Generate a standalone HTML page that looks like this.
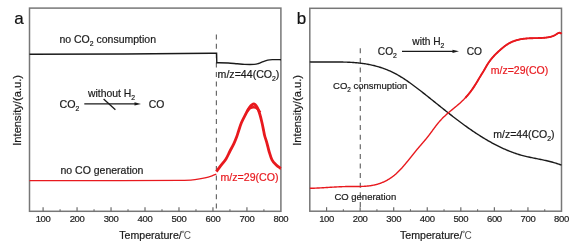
<!DOCTYPE html>
<html><head><meta charset="utf-8"><style>
html,body{margin:0;padding:0;background:#fff;width:581px;height:242px;overflow:hidden}
svg{display:block;filter:blur(0.25px)}
svg text{stroke:currentColor;stroke-width:0.2px}
svg text{font-family:"Liberation Sans", sans-serif}
</style></head><body>
<svg width="581" height="242" viewBox="0 0 581 242" font-family='"Liberation Sans", sans-serif'><text x="14.3" y="23.7" font-size="17" fill="#111" color="#111">a</text>
<text x="296.8" y="23.8" font-size="17" fill="#111" color="#111">b</text>
<rect x="29.50" y="8.10" width="251.40" height="203.20" fill="none" stroke="#777" stroke-width="1.5"/>
<line x1="43.09" y1="211.30" x2="43.09" y2="207.30" stroke="#6a6a6a" stroke-width="1.2"/>
<text x="43.09" y="222.2" font-size="9.5" letter-spacing="-0.35" text-anchor="middle" fill="#222" color="#222">100</text>
<line x1="77.06" y1="211.30" x2="77.06" y2="207.30" stroke="#6a6a6a" stroke-width="1.2"/>
<text x="77.06" y="222.2" font-size="9.5" letter-spacing="-0.35" text-anchor="middle" fill="#222" color="#222">200</text>
<line x1="111.04" y1="211.30" x2="111.04" y2="207.30" stroke="#6a6a6a" stroke-width="1.2"/>
<text x="111.04" y="222.2" font-size="9.5" letter-spacing="-0.35" text-anchor="middle" fill="#222" color="#222">300</text>
<line x1="145.01" y1="211.30" x2="145.01" y2="207.30" stroke="#6a6a6a" stroke-width="1.2"/>
<text x="145.01" y="222.2" font-size="9.5" letter-spacing="-0.35" text-anchor="middle" fill="#222" color="#222">400</text>
<line x1="178.98" y1="211.30" x2="178.98" y2="207.30" stroke="#6a6a6a" stroke-width="1.2"/>
<text x="178.98" y="222.2" font-size="9.5" letter-spacing="-0.35" text-anchor="middle" fill="#222" color="#222">500</text>
<line x1="212.95" y1="211.30" x2="212.95" y2="207.30" stroke="#6a6a6a" stroke-width="1.2"/>
<text x="212.95" y="222.2" font-size="9.5" letter-spacing="-0.35" text-anchor="middle" fill="#222" color="#222">600</text>
<line x1="246.93" y1="211.30" x2="246.93" y2="207.30" stroke="#6a6a6a" stroke-width="1.2"/>
<text x="246.93" y="222.2" font-size="9.5" letter-spacing="-0.35" text-anchor="middle" fill="#222" color="#222">700</text>
<text x="280.90" y="222.2" font-size="9.5" letter-spacing="-0.35" text-anchor="middle" fill="#222" color="#222">800</text>
<line x1="60.08" y1="211.30" x2="60.08" y2="209.30" stroke="#6a6a6a" stroke-width="1.1"/>
<line x1="94.05" y1="211.30" x2="94.05" y2="209.30" stroke="#6a6a6a" stroke-width="1.1"/>
<line x1="128.02" y1="211.30" x2="128.02" y2="209.30" stroke="#6a6a6a" stroke-width="1.1"/>
<line x1="161.99" y1="211.30" x2="161.99" y2="209.30" stroke="#6a6a6a" stroke-width="1.1"/>
<line x1="195.97" y1="211.30" x2="195.97" y2="209.30" stroke="#6a6a6a" stroke-width="1.1"/>
<line x1="229.94" y1="211.30" x2="229.94" y2="209.30" stroke="#6a6a6a" stroke-width="1.1"/>
<line x1="263.91" y1="211.30" x2="263.91" y2="209.30" stroke="#6a6a6a" stroke-width="1.1"/>
<rect x="309.80" y="8.30" width="251.70" height="202.90" fill="none" stroke="#777" stroke-width="1.5"/>
<line x1="326.58" y1="211.20" x2="326.58" y2="207.20" stroke="#6a6a6a" stroke-width="1.2"/>
<text x="326.58" y="222.2" font-size="9.5" letter-spacing="-0.35" text-anchor="middle" fill="#222" color="#222">100</text>
<line x1="360.14" y1="211.20" x2="360.14" y2="207.20" stroke="#6a6a6a" stroke-width="1.2"/>
<text x="360.14" y="222.2" font-size="9.5" letter-spacing="-0.35" text-anchor="middle" fill="#222" color="#222">200</text>
<line x1="393.70" y1="211.20" x2="393.70" y2="207.20" stroke="#6a6a6a" stroke-width="1.2"/>
<text x="393.70" y="222.2" font-size="9.5" letter-spacing="-0.35" text-anchor="middle" fill="#222" color="#222">300</text>
<line x1="427.26" y1="211.20" x2="427.26" y2="207.20" stroke="#6a6a6a" stroke-width="1.2"/>
<text x="427.26" y="222.2" font-size="9.5" letter-spacing="-0.35" text-anchor="middle" fill="#222" color="#222">400</text>
<line x1="460.82" y1="211.20" x2="460.82" y2="207.20" stroke="#6a6a6a" stroke-width="1.2"/>
<text x="460.82" y="222.2" font-size="9.5" letter-spacing="-0.35" text-anchor="middle" fill="#222" color="#222">500</text>
<line x1="494.38" y1="211.20" x2="494.38" y2="207.20" stroke="#6a6a6a" stroke-width="1.2"/>
<text x="494.38" y="222.2" font-size="9.5" letter-spacing="-0.35" text-anchor="middle" fill="#222" color="#222">600</text>
<line x1="527.94" y1="211.20" x2="527.94" y2="207.20" stroke="#6a6a6a" stroke-width="1.2"/>
<text x="527.94" y="222.2" font-size="9.5" letter-spacing="-0.35" text-anchor="middle" fill="#222" color="#222">700</text>
<text x="561.50" y="222.2" font-size="9.5" letter-spacing="-0.35" text-anchor="middle" fill="#222" color="#222">800</text>
<line x1="343.36" y1="211.20" x2="343.36" y2="209.20" stroke="#6a6a6a" stroke-width="1.1"/>
<line x1="376.92" y1="211.20" x2="376.92" y2="209.20" stroke="#6a6a6a" stroke-width="1.1"/>
<line x1="410.48" y1="211.20" x2="410.48" y2="209.20" stroke="#6a6a6a" stroke-width="1.1"/>
<line x1="444.04" y1="211.20" x2="444.04" y2="209.20" stroke="#6a6a6a" stroke-width="1.1"/>
<line x1="477.60" y1="211.20" x2="477.60" y2="209.20" stroke="#6a6a6a" stroke-width="1.1"/>
<line x1="511.16" y1="211.20" x2="511.16" y2="209.20" stroke="#6a6a6a" stroke-width="1.1"/>
<line x1="544.72" y1="211.20" x2="544.72" y2="209.20" stroke="#6a6a6a" stroke-width="1.1"/>
<line x1="216.4" y1="34.4" x2="216.4" y2="211" stroke="#6a6a6a" stroke-width="1.2" stroke-dasharray="5,4.4"/>
<line x1="360.3" y1="48.3" x2="360.3" y2="211" stroke="#6a6a6a" stroke-width="1.2" stroke-dasharray="5,4.6"/>
<path d="M29.5,54.2 L125,54.0 L211,53.2 L216.6,53.1 L216.8,62.8 C217.18,62.78 217.20,62.67 219.10,62.70 C221.00,62.73 225.17,62.82 228.20,63.00 C231.23,63.18 234.58,63.57 237.30,63.80 C240.02,64.03 241.70,64.30 244.50,64.40 C247.30,64.50 251.75,64.55 254.10,64.40 C256.45,64.25 257.08,63.97 258.60,63.50 C260.12,63.03 261.68,62.17 263.20,61.60 C264.72,61.03 266.18,60.43 267.70,60.10 C269.22,59.77 270.08,59.67 272.30,59.60 C274.52,59.53 279.55,59.68 281.00,59.70" fill="none" stroke="#1a1a1a" stroke-width="1.4"/>
<path d="M29.50,180.60 C44.58,180.60 94.92,180.63 120.00,180.60 C145.08,180.57 167.50,180.57 180.00,180.40 C192.50,180.23 190.83,180.02 195.00,179.60 C199.17,179.18 202.17,178.52 205.00,177.90 C207.83,177.28 210.12,176.53 212.00,175.90 C213.88,175.27 215.58,174.40 216.30,174.10" fill="none" stroke="#e8191e" stroke-width="1.3"/>
<path d="M216.40,171.60 C217.03,170.73 218.60,168.52 220.20,166.40 C221.80,164.28 224.40,161.38 226.00,158.90 C227.60,156.42 228.47,154.10 229.80,151.50 C231.13,148.90 232.83,145.80 234.00,143.30 C235.17,140.80 236.03,138.55 236.80,136.50 C237.57,134.45 237.83,133.28 238.60,131.00 C239.37,128.72 240.25,125.55 241.40,122.80 C242.55,120.05 244.12,117.10 245.50,114.50 C246.88,111.90 248.32,108.95 249.70,107.20 C251.08,105.45 252.57,104.00 253.80,104.00 C255.03,104.00 256.08,105.45 257.10,107.20 C258.12,108.95 259.08,111.90 259.90,114.50 C260.72,117.10 261.37,120.05 262.00,122.80 C262.63,125.55 263.27,128.88 263.70,131.00 C264.13,133.12 264.05,133.45 264.60,135.50 C265.15,137.55 266.25,140.63 267.00,143.30 C267.75,145.97 268.27,148.75 269.10,151.50 C269.93,154.25 270.85,157.60 272.00,159.80 C273.15,162.00 274.63,163.33 276.00,164.70 C277.37,166.07 279.37,167.40 280.20,168.00 C281.03,168.60 280.87,168.25 281.00,168.30" fill="none" stroke="#e8191e" stroke-width="2.8"/>
<path d="M246.50,112.00 C247.08,111.37 248.78,109.00 250.00,108.20 C251.22,107.40 252.60,107.17 253.80,107.20 C255.00,107.23 256.13,107.52 257.20,108.40 C258.27,109.28 259.70,111.82 260.20,112.50" fill="none" stroke="#e8191e" stroke-width="2.6"/>
<path d="M309.80,61.92 L310.80,61.95 L311.80,61.97 L312.80,61.99 L313.80,62.01 L314.80,62.03 L315.80,62.04 L316.80,62.04 L317.80,62.05 L318.80,62.05 L319.80,62.05 L320.80,62.05 L321.80,62.05 L322.80,62.05 L323.80,62.04 L324.80,62.04 L325.80,62.03 L326.80,62.03 L327.80,62.02 L328.80,62.01 L329.80,62.01 L330.80,62.00 L331.80,61.99 L332.80,61.99 L333.80,61.99 L334.80,61.99 L335.80,61.99 L336.80,61.99 L337.80,61.99 L338.80,62.00 L339.80,62.01 L340.80,62.02 L341.80,62.04 L342.80,62.05 L343.80,62.08 L344.80,62.10 L345.80,62.13 L346.80,62.17 L347.80,62.21 L348.80,62.25 L349.80,62.30 L350.80,62.35 L351.80,62.41 L352.80,62.47 L353.80,62.54 L354.80,62.62 L355.80,62.70 L356.80,62.79 L357.80,62.89 L358.80,62.99 L359.80,63.10 L360.80,63.22 L361.80,63.35 L362.80,63.48 L363.80,63.62 L364.80,63.77 L365.80,63.93 L366.80,64.10 L367.80,64.28 L368.80,64.47 L369.80,64.66 L370.80,64.87 L371.80,65.09 L372.80,65.31 L373.80,65.55 L374.80,65.80 L375.80,66.06 L376.80,66.33 L377.80,66.61 L378.80,66.90 L379.80,67.21 L380.80,67.52 L381.80,67.85 L382.80,68.20 L383.80,68.55 L384.80,68.92 L385.80,69.30 L386.80,69.70 L387.80,70.11 L388.80,70.53 L389.80,70.97 L390.80,71.42 L391.80,71.89 L392.80,72.37 L393.80,72.87 L394.80,73.38 L395.80,73.91 L396.80,74.45 L397.80,75.01 L398.80,75.59 L399.80,76.18 L400.80,76.78 L401.80,77.40 L402.80,78.03 L403.80,78.68 L404.80,79.33 L405.80,80.00 L406.80,80.68 L407.80,81.37 L408.80,82.07 L409.80,82.77 L410.80,83.49 L411.80,84.22 L412.80,84.95 L413.80,85.69 L414.80,86.44 L415.80,87.19 L416.80,87.95 L417.80,88.71 L418.80,89.48 L419.80,90.25 L420.80,91.03 L421.80,91.81 L422.80,92.59 L423.80,93.37 L424.80,94.16 L425.80,94.95 L426.80,95.74 L427.80,96.54 L428.80,97.33 L429.80,98.13 L430.80,98.93 L431.80,99.73 L432.80,100.53 L433.80,101.33 L434.80,102.13 L435.80,102.94 L436.80,103.74 L437.80,104.54 L438.80,105.34 L439.80,106.15 L440.80,106.95 L441.80,107.75 L442.80,108.55 L443.80,109.34 L444.80,110.14 L445.80,110.94 L446.80,111.73 L447.80,112.52 L448.80,113.31 L449.80,114.09 L450.80,114.88 L451.80,115.66 L452.80,116.44 L453.80,117.21 L454.80,117.98 L455.80,118.75 L456.80,119.51 L457.80,120.27 L458.80,121.03 L459.80,121.78 L460.80,122.52 L461.80,123.26 L462.80,124.00 L463.80,124.73 L464.80,125.46 L465.80,126.18 L466.80,126.89 L467.80,127.60 L468.80,128.31 L469.80,129.01 L470.80,129.70 L471.80,130.39 L472.80,131.07 L473.80,131.75 L474.80,132.41 L475.80,133.08 L476.80,133.74 L477.80,134.39 L478.80,135.03 L479.80,135.67 L480.80,136.30 L481.80,136.93 L482.80,137.54 L483.80,138.16 L484.80,138.76 L485.80,139.36 L486.80,139.95 L487.80,140.53 L488.80,141.10 L489.80,141.67 L490.80,142.23 L491.80,142.78 L492.80,143.33 L493.80,143.87 L494.80,144.40 L495.80,144.92 L496.80,145.43 L497.80,145.93 L498.80,146.43 L499.80,146.92 L500.80,147.40 L501.80,147.87 L502.80,148.33 L503.80,148.78 L504.80,149.23 L505.80,149.66 L506.80,150.09 L507.80,150.51 L508.80,150.92 L509.80,151.31 L510.80,151.70 L511.80,152.08 L512.80,152.45 L513.80,152.81 L514.80,153.16 L515.80,153.51 L516.80,153.84 L517.80,154.16 L518.80,154.47 L519.80,154.77 L520.80,155.06 L521.80,155.34 L522.80,155.60 L523.80,155.86 L524.80,156.11 L525.80,156.36 L526.80,156.59 L527.80,156.82 L528.80,157.04 L529.80,157.26 L530.80,157.47 L531.80,157.68 L532.80,157.88 L533.80,158.09 L534.80,158.28 L535.80,158.48 L536.80,158.68 L537.80,158.88 L538.80,159.07 L539.80,159.27 L540.80,159.47 L541.80,159.68 L542.80,159.88 L543.80,160.09 L544.80,160.31 L545.80,160.53 L546.80,160.75 L547.80,160.98 L548.80,161.22 L549.80,161.47 L550.80,161.73 L551.80,161.99 L552.80,162.26 L553.80,162.55 L554.80,162.85 L555.80,163.15 L556.80,163.47 L557.80,163.81 L558.80,164.16 L559.80,164.52 L560.80,164.89 L561.50,165.17" fill="none" stroke="#1a1a1a" stroke-width="1.4" stroke-linejoin="round"/>
<path d="M309.90,188.32 L310.40,188.31 L310.90,188.30 L311.40,188.28 L311.90,188.27 L312.40,188.25 L312.90,188.24 L313.40,188.22 L313.90,188.20 L314.40,188.18 L314.90,188.16 L315.40,188.14 L315.90,188.12 L316.40,188.09 L316.90,188.07 L317.40,188.05 L317.90,188.02 L318.40,188.00 L318.90,187.97 L319.40,187.94 L319.90,187.92 L320.40,187.89 L320.90,187.86 L321.40,187.84 L321.90,187.81 L322.40,187.78 L322.90,187.75 L323.40,187.72 L323.90,187.69 L324.40,187.66 L324.90,187.63 L325.40,187.60 L325.90,187.57 L326.40,187.54 L326.90,187.51 L327.40,187.48 L327.90,187.45 L328.40,187.42 L328.90,187.38 L329.40,187.35 L329.90,187.32 L330.40,187.29 L330.90,187.26 L331.40,187.23 L331.90,187.20 L332.40,187.17 L332.90,187.14 L333.40,187.11 L333.90,187.08 L334.40,187.05 L334.90,187.03 L335.40,187.00 L335.90,186.97 L336.40,186.94 L336.90,186.92 L337.40,186.89 L337.90,186.87 L338.40,186.84 L338.90,186.82 L339.40,186.79 L339.90,186.77 L340.40,186.75 L340.90,186.72 L341.40,186.70 L341.90,186.68 L342.40,186.66 L342.90,186.65 L343.40,186.63 L343.90,186.61 L344.40,186.59 L344.90,186.58 L345.40,186.57 L345.90,186.55 L346.40,186.54 L346.90,186.53 L347.40,186.52 L347.90,186.51 L348.40,186.50 L348.90,186.50 L349.40,186.49 L349.90,186.49 L350.40,186.48 L350.90,186.48 L351.40,186.48 L351.90,186.48 L352.40,186.48 L352.90,186.48 L353.40,186.49 L353.90,186.49 L354.40,186.49 L354.90,186.49 L355.40,186.49 L355.90,186.49 L356.40,186.49 L356.90,186.49 L357.40,186.49 L357.90,186.49 L358.40,186.48 L358.90,186.48 L359.40,186.47 L359.90,186.46 L360.40,186.46 L360.90,186.44 L361.40,186.43 L361.90,186.41 L362.40,186.40 L362.90,186.38 L363.40,186.35 L363.90,186.33 L364.40,186.30 L364.90,186.27 L365.40,186.23 L365.90,186.19 L366.40,186.15 L366.90,186.11 L367.40,186.06 L367.90,186.01 L368.40,185.96 L368.90,185.90 L369.40,185.84 L369.90,185.77 L370.40,185.70 L370.90,185.63 L371.40,185.55 L371.90,185.46 L372.40,185.37 L372.90,185.28 L373.40,185.18 L373.90,185.08 L374.40,184.97 L374.90,184.86 L375.40,184.74 L375.90,184.62 L376.40,184.49 L376.90,184.35 L377.40,184.21 L377.90,184.07 L378.40,183.92 L378.90,183.76 L379.40,183.59 L379.90,183.42 L380.40,183.24 L380.90,183.06 L381.40,182.87 L381.90,182.67 L382.40,182.47 L382.90,182.26 L383.40,182.04 L383.90,181.81 L384.40,181.58 L384.90,181.34 L385.40,181.09 L385.90,180.83 L386.40,180.57 L386.90,180.30 L387.40,180.02 L387.90,179.73 L388.40,179.43 L388.90,179.13 L389.40,178.81 L389.90,178.49 L390.40,178.16 L390.90,177.82 L391.40,177.47 L391.90,177.12 L392.40,176.75 L392.90,176.37 L393.40,175.99 L393.90,175.59 L394.40,175.19 L394.90,174.77 L395.40,174.35 L395.90,173.91 L396.40,173.47 L396.90,173.01 L397.40,172.55 L397.90,172.07 L398.40,171.58 L398.90,171.09 L399.40,170.58 L399.90,170.06 L400.40,169.54 L400.90,169.00 L401.40,168.46 L401.90,167.91 L402.40,167.35 L402.90,166.79 L403.40,166.21 L403.90,165.64 L404.40,165.05 L404.90,164.46 L405.40,163.87 L405.90,163.27 L406.40,162.66 L406.90,162.05 L407.40,161.44 L407.90,160.83 L408.40,160.21 L408.90,159.59 L409.40,158.97 L409.90,158.34 L410.40,157.72 L410.90,157.09 L411.40,156.47 L411.90,155.84 L412.40,155.22 L412.90,154.59 L413.40,153.97 L413.90,153.35 L414.40,152.73 L414.90,152.11 L415.40,151.50 L415.90,150.88 L416.40,150.28 L416.90,149.67 L417.40,149.07 L417.90,148.48 L418.40,147.89 L418.90,147.30 L419.40,146.71 L419.90,146.13 L420.40,145.55 L420.90,144.97 L421.40,144.39 L421.90,143.81 L422.40,143.22 L422.90,142.64 L423.40,142.06 L423.90,141.47 L424.40,140.88 L424.90,140.28 L425.40,139.68 L425.90,139.08 L426.40,138.47 L426.90,137.86 L427.40,137.23 L427.90,136.61 L428.40,135.97 L428.90,135.32 L429.40,134.67 L429.90,134.01 L430.40,133.34 L430.90,132.66 L431.40,131.98 L431.90,131.30 L432.40,130.62 L432.90,129.93 L433.40,129.25 L433.90,128.57 L434.40,127.89 L434.90,127.22 L435.40,126.55 L435.90,125.89 L436.40,125.24 L436.90,124.60 L437.40,123.98 L437.90,123.36 L438.40,122.76 L438.90,122.17 L439.40,121.59 L439.90,121.02 L440.40,120.47 L440.90,119.92 L441.40,119.39 L441.90,118.86 L442.40,118.35 L442.90,117.84 L443.40,117.35 L443.90,116.86 L444.40,116.38 L444.90,115.90 L445.40,115.44 L445.90,114.98 L446.40,114.52 L446.90,114.08 L447.40,113.64 L447.90,113.20 L448.40,112.77 L448.90,112.34 L449.40,111.92 L449.90,111.50 L450.40,111.08 L450.90,110.67 L451.40,110.26 L451.90,109.85 L452.40,109.44 L452.90,109.03 L453.40,108.63 L453.90,108.22 L454.40,107.81 L454.90,107.40 L455.40,106.99 L455.90,106.58 L456.40,106.17 L456.90,105.75 L457.40,105.33 L457.90,104.91 L458.40,104.48 L458.90,104.05 L459.40,103.61 L459.90,103.17 L460.40,102.72 L460.90,102.26 L461.40,101.80 L461.90,101.33 L462.40,100.85 L462.90,100.37 L463.40,99.88 L463.90,99.37 L464.40,98.86 L464.90,98.34 L465.40,97.81 L465.90,97.26 L466.40,96.71 L466.90,96.14 L467.40,95.56 L467.90,94.97 L468.40,94.37 L468.90,93.75 L469.40,93.13 L469.90,92.49 L470.40,91.83 L470.90,91.17 L471.40,90.49 L471.90,89.80 L472.40,89.09 L472.90,88.38 L473.40,87.64 L473.90,86.90 L474.40,86.14 L474.90,85.36 L475.40,84.58 L475.90,83.77 L476.40,82.96 L476.90,82.13 L477.40,81.29 L477.90,80.44 L478.40,79.59 L478.90,78.74 L479.40,77.89 L479.90,77.06 L480.40,76.24 L480.90,75.43 L481.40,74.62 L481.90,73.82 L482.40,73.01 L482.90,72.20 L483.40,71.37 L483.90,70.53 L484.40,69.67 L484.90,68.80 L485.40,67.93 L485.90,67.05 L486.40,66.19 L486.90,65.35 L487.40,64.53 L487.90,63.74 L488.40,62.98 L488.90,62.24 L489.40,61.53 L489.90,60.83 L490.40,60.16 L490.90,59.52 L491.40,58.89 L491.90,58.28 L492.40,57.68 L492.90,57.11 L493.40,56.54 L493.90,56.00 L494.40,55.46 L494.90,54.94 L495.40,54.43 L495.90,53.93 L496.40,53.44 L496.90,52.96 L497.40,52.48 L497.90,52.01 L498.40,51.55 L498.90,51.08 L499.40,50.63 L499.90,50.18 L500.40,49.73 L500.90,49.29 L501.40,48.86 L501.90,48.43 L502.40,48.02 L502.90,47.61 L503.40,47.21 L503.90,46.81 L504.40,46.43 L504.90,46.05 L505.40,45.69 L505.90,45.34 L506.40,44.99 L506.90,44.66 L507.40,44.34 L507.90,44.03 L508.40,43.73 L508.90,43.44 L509.40,43.17 L509.90,42.90 L510.40,42.64 L510.90,42.39 L511.40,42.15 L511.90,41.92 L512.40,41.71 L512.90,41.49 L513.40,41.29 L513.90,41.10 L514.40,40.91 L514.90,40.74 L515.40,40.57 L515.90,40.41 L516.40,40.26 L516.90,40.11 L517.40,39.97 L517.90,39.84 L518.40,39.71 L518.90,39.60 L519.40,39.49 L519.90,39.38 L520.40,39.28 L520.90,39.19 L521.40,39.10 L521.90,39.02 L522.40,38.94 L522.90,38.87 L523.40,38.80 L523.90,38.74 L524.40,38.68 L524.90,38.63 L525.40,38.58 L525.90,38.53 L526.40,38.49 L526.90,38.45 L527.40,38.42 L527.90,38.38 L528.40,38.35 L528.90,38.33 L529.40,38.30 L529.90,38.28 L530.40,38.26 L530.90,38.24 L531.40,38.23 L531.90,38.21 L532.40,38.20 L532.90,38.19 L533.40,38.17 L533.90,38.16 L534.40,38.15 L534.90,38.14 L535.40,38.13 L535.90,38.12 L536.40,38.11 L536.90,38.10 L537.40,38.09 L537.90,38.08 L538.40,38.07 L538.90,38.05 L539.40,38.04 L539.90,38.02 L540.40,38.00 L540.90,37.98 L541.40,37.95 L541.90,37.93 L542.40,37.90 L542.90,37.87 L543.40,37.83 L543.90,37.79 L544.40,37.75 L544.90,37.71 L545.40,37.66 L545.90,37.60 L546.40,37.55 L546.90,37.48 L547.40,37.42 L547.90,37.34 L548.40,37.26 L548.90,37.17 L549.40,37.07 L549.90,36.96 L550.40,36.84 L550.90,36.71 L551.40,36.56 L551.90,36.40 L552.40,36.23 L552.90,36.04 L553.40,35.83 L553.90,35.60 L554.40,35.36 L554.90,35.10 L555.40,34.82 L555.90,34.51 L556.40,34.19 L556.90,33.85 L557.40,33.54 L557.90,33.25 L558.40,33.01 L558.90,32.84 L559.40,32.76 L559.90,32.79 L560.40,32.95 L560.90,33.26 L561.40,33.73 L561.50,33.84" fill="none" stroke="#e8191e" stroke-width="1.4" stroke-linejoin="round"/>
<path d="M465.40,97.81 L465.90,97.26 L466.40,96.71 L466.90,96.14 L467.40,95.56 L467.90,94.97 L468.40,94.37 L468.90,93.75 L469.40,93.13 L469.90,92.49 L470.40,91.83 L470.90,91.17 L471.40,90.49 L471.90,89.80 L472.40,89.09 L472.90,88.38 L473.40,87.64 L473.90,86.90 L474.40,86.14 L474.90,85.36 L475.40,84.58 L475.90,83.77 L476.40,82.96 L476.90,82.13 L477.40,81.29 L477.90,80.44 L478.40,79.59 L478.90,78.74 L479.40,77.89 L479.90,77.06 L480.40,76.24 L480.90,75.43 L481.40,74.62 L481.90,73.82 L482.40,73.01 L482.90,72.20 L483.40,71.37 L483.90,70.53 L484.40,69.67 L484.90,68.80 L485.40,67.93 L485.90,67.05 L486.40,66.19 L486.90,65.35 L487.40,64.53 L487.90,63.74 L488.40,62.98 L488.90,62.24 L489.40,61.53 L489.90,60.83 L490.40,60.16 L490.90,59.52 L491.40,58.89 L491.90,58.28 L492.40,57.68 L492.90,57.11 L493.40,56.54 L493.90,56.00 L494.40,55.46 L494.90,54.94 L495.40,54.43 L495.90,53.93 L496.40,53.44 L496.90,52.96 L497.40,52.48 L497.90,52.01 L498.40,51.55 L498.90,51.08 L499.40,50.63 L499.90,50.18 L500.40,49.73 L500.90,49.29 L501.40,48.86 L501.90,48.43 L502.40,48.02 L502.90,47.61 L503.40,47.21 L503.90,46.81 L504.40,46.43 L504.90,46.05 L505.40,45.69 L505.90,45.34 L506.40,44.99 L506.90,44.66 L507.40,44.34 L507.90,44.03 L508.40,43.73 L508.90,43.44 L509.40,43.17 L509.90,42.90 L510.40,42.64 L510.90,42.39 L511.40,42.15 L511.90,41.92 L512.40,41.71 L512.90,41.49 L513.40,41.29 L513.90,41.10 L514.40,40.91 L514.90,40.74 L515.40,40.57 L515.90,40.41 L516.40,40.26 L516.90,40.11 L517.40,39.97 L517.90,39.84 L518.40,39.71 L518.90,39.60 L519.40,39.49 L519.90,39.38 L520.40,39.28 L520.90,39.19 L521.40,39.10 L521.90,39.02 L522.40,38.94 L522.90,38.87 L523.40,38.80 L523.90,38.74 L524.40,38.68 L524.90,38.63 L525.40,38.58 L525.90,38.53 L526.40,38.49 L526.90,38.45 L527.40,38.42 L527.90,38.38 L528.40,38.35 L528.90,38.33 L529.40,38.30 L529.90,38.28 L530.40,38.26 L530.90,38.24 L531.40,38.23 L531.90,38.21 L532.40,38.20 L532.90,38.19 L533.40,38.17 L533.90,38.16 L534.40,38.15 L534.90,38.14 L535.40,38.13 L535.90,38.12 L536.40,38.11 L536.90,38.10 L537.40,38.09 L537.90,38.08 L538.40,38.07 L538.90,38.05 L539.40,38.04 L539.90,38.02 L540.40,38.00 L540.90,37.98 L541.40,37.95 L541.90,37.93 L542.40,37.90 L542.90,37.87 L543.40,37.83 L543.90,37.79 L544.40,37.75 L544.90,37.71 L545.40,37.66 L545.90,37.60 L546.40,37.55 L546.90,37.48 L547.40,37.42 L547.90,37.34 L548.40,37.26 L548.90,37.17 L549.40,37.07 L549.90,36.96 L550.40,36.84 L550.90,36.71 L551.40,36.56 L551.90,36.40 L552.40,36.23 L552.90,36.04 L553.40,35.83 L553.90,35.60 L554.40,35.36 L554.90,35.10 L555.40,34.82 L555.90,34.51 L556.40,34.19 L556.90,33.85 L557.40,33.54 L557.90,33.25 L558.40,33.01 L558.90,32.84 L559.40,32.76 L559.90,32.79 L560.40,32.95 L560.90,33.26 L561.40,33.73 L561.50,33.84" fill="none" stroke="#e8191e" stroke-width="1.9" stroke-linejoin="round"/>
<text x="59.4" y="43" font-size="10.5" fill="#1a1a1a" color="#1a1a1a">no CO<tspan font-size="6.8" dy="2.9">2</tspan><tspan dy="-2.9"> consumption</tspan></text>
<text x="217.6" y="78.2" font-size="10.6" fill="#1a1a1a" color="#1a1a1a">m/z=44(CO<tspan font-size="6.8" dy="2.9">2</tspan><tspan dy="-2.9">)</tspan></text>
<text x="60.5" y="173.6" font-size="10.5" fill="#1a1a1a" color="#1a1a1a">no CO generation</text>
<text x="220.5" y="180.8" font-size="10.6" fill="#e8191e" color="#e8191e">m/z=29(CO)</text>
<text x="59.5" y="107.9" font-size="10.7" fill="#1a1a1a" color="#1a1a1a">CO<tspan font-size="6.8" dy="2.9">2</tspan></text>
<text x="88" y="96.8" font-size="10.4" fill="#1a1a1a" color="#1a1a1a">without H<tspan font-size="6.8" dy="2.9">2</tspan></text>
<line x1="84.3" y1="103.9" x2="136" y2="103.9" stroke="#1a1a1a" stroke-width="1.3"/>
<path d="M134.5,102.3 L141,103.9 L134.5,105.5 Z" fill="#1a1a1a"/>
<line x1="103.6" y1="99" x2="115.4" y2="109.8" stroke="#1a1a1a" stroke-width="1.3"/>
<text x="148.7" y="107.9" font-size="10.4" fill="#1a1a1a" color="#1a1a1a">CO</text>
<text x="377.8" y="55.2" font-size="10.2" fill="#1a1a1a" color="#1a1a1a">CO<tspan font-size="6.8" dy="2.9">2</tspan></text>
<text x="412.3" y="44.9" font-size="10.2" fill="#1a1a1a" color="#1a1a1a">with H<tspan font-size="6.8" dy="2.9">2</tspan></text>
<line x1="402" y1="51.3" x2="453" y2="51.3" stroke="#1a1a1a" stroke-width="1.3"/>
<path d="M452.5,49.7 L459,51.3 L452.5,52.9 Z" fill="#1a1a1a"/>
<text x="466.7" y="55.2" font-size="10.2" fill="#1a1a1a" color="#1a1a1a">CO</text>
<text x="333.1" y="89.3" font-size="9.5" fill="#1a1a1a" color="#1a1a1a">CO<tspan font-size="6.3" dy="2.7">2</tspan><tspan dy="-2.7"> consmuption</tspan></text>
<text x="493.3" y="137.9" font-size="10.5" fill="#1a1a1a" color="#1a1a1a">m/z=44(CO<tspan font-size="6.8" dy="2.9">2</tspan><tspan dy="-2.9">)</tspan></text>
<text x="490.8" y="73.9" font-size="10.5" fill="#e8191e" color="#e8191e">m/z=29(CO)</text>
<text x="334.4" y="199.5" font-size="9.5" fill="#1a1a1a" color="#1a1a1a">CO generation</text>
<text x="119.3" y="238.6" font-size="10.6" fill="#1a1a1a" color="#1a1a1a">Temperature/</text>
<circle cx="183.00" cy="231.80" r="0.8" fill="none" stroke="#555" stroke-width="0.7"/>
<text x="183.80" y="238.60" font-size="10" fill="#555" style="stroke:none">C</text>
<text x="400.0" y="238.6" font-size="10.6" fill="#1a1a1a" color="#1a1a1a">Temperature/</text>
<circle cx="463.70" cy="231.80" r="0.8" fill="none" stroke="#555" stroke-width="0.7"/>
<text x="464.50" y="238.60" font-size="10" fill="#555" style="stroke:none">C</text>
<text transform="translate(20.9,145.8) rotate(-90)" x="0" y="0" font-size="11.2" fill="#1a1a1a" color="#1a1a1a">Intensity/(a.u.)</text>
<text transform="translate(300.9,145.8) rotate(-90)" x="0" y="0" font-size="11.2" fill="#1a1a1a" color="#1a1a1a">Intensity/(a.u.)</text></svg>
</body></html>
